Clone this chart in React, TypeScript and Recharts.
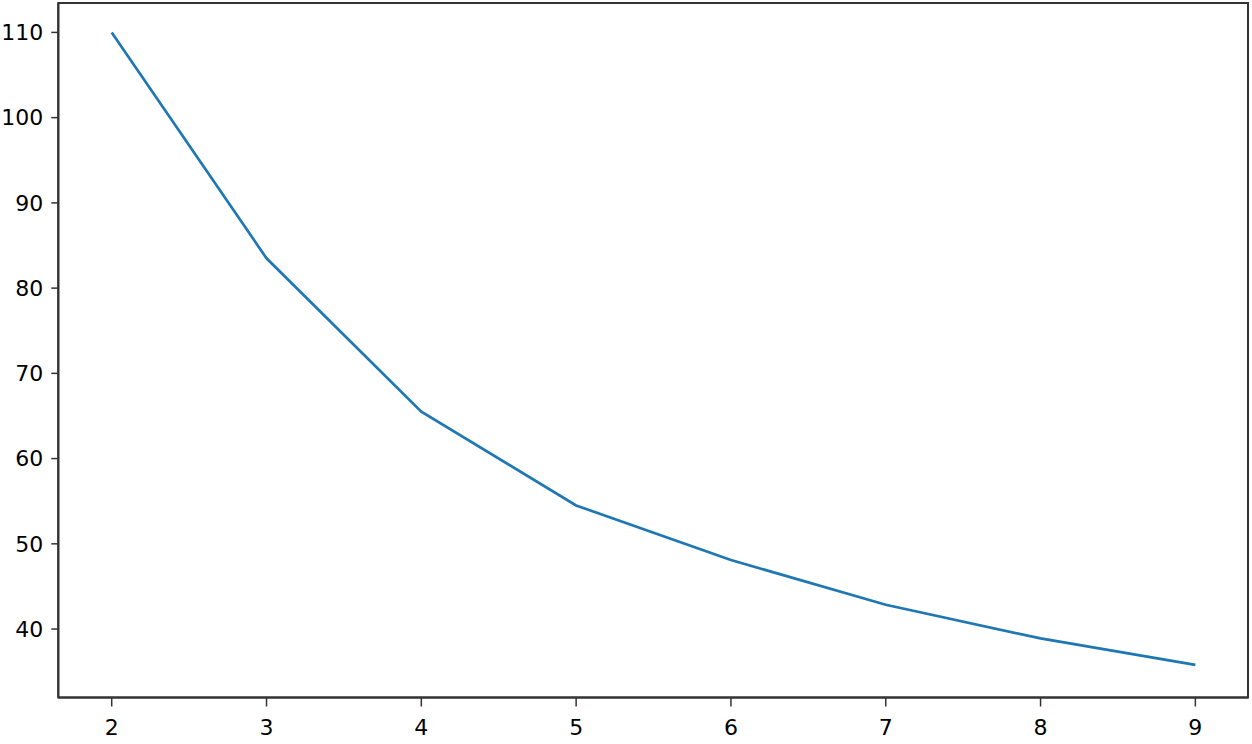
import React from "react";
import { LineChart, Line, XAxis, YAxis, ReferenceArea } from "recharts";

// values
const clusterCounts = [2, 3, 4, 5, 6, 7, 8, 9];
const scores = [110, 83.5, 65.5, 54.5, 48.1, 42.85, 38.9, 35.8];
const xTicks = [2, 3, 4, 5, 6, 7, 8, 9];
const yTicks = [40, 50, 60, 70, 80, 90, 100, 110];

const xDomain = [1.655, 9.34];
const yDomain = [31.97, 113.45];

const data = clusterCounts.map((k, i) => ({ k, score: scores[i] }));

const tickStyle = { fill: "#000", fontSize: 22, fontFamily: "DejaVu Sans" };
const spine = { stroke: "#333", strokeWidth: 2 };

export default function App() {
  return (
    <div style={{ position: "absolute", left: 0, top: 0, background: "#fff" }}>
      <LineChart
        width={1252}
        height={744}
        data={data}
        margin={{ top: 3, right: 4, bottom: 0, left: 0 }}
      >
        <XAxis
          dataKey="k"
          type="number"
          domain={xDomain}
          ticks={xTicks}
          height={46.5}
          tickSize={9}
          tickMargin={13}
          tick={tickStyle}
          axisLine={spine}
          tickLine={{ stroke: "#333", strokeWidth: 1.5 }}
          allowDataOverflow
        />
        <YAxis
          type="number"
          domain={yDomain}
          ticks={yTicks}
          width={58.3}
          tickSize={7}
          tickMargin={8}
          tick={tickStyle}
          axisLine={spine}
          tickLine={{ stroke: "#333", strokeWidth: 1.5 }}
          allowDataOverflow
        />
        {/* box around the plot, like matplotlib's four spines */}
        <ReferenceArea
          x1={xDomain[0]}
          x2={xDomain[1]}
          y1={yDomain[0]}
          y2={yDomain[1]}
          fill="none"
          stroke="#333"
          strokeWidth={2}
          ifOverflow="visible"
        />
        <Line
          dataKey="score"
          stroke="#1f77b4"
          strokeWidth={2.7}
          dot={false}
          isAnimationActive={false}
        />
      </LineChart>
    </div>
  );
}
